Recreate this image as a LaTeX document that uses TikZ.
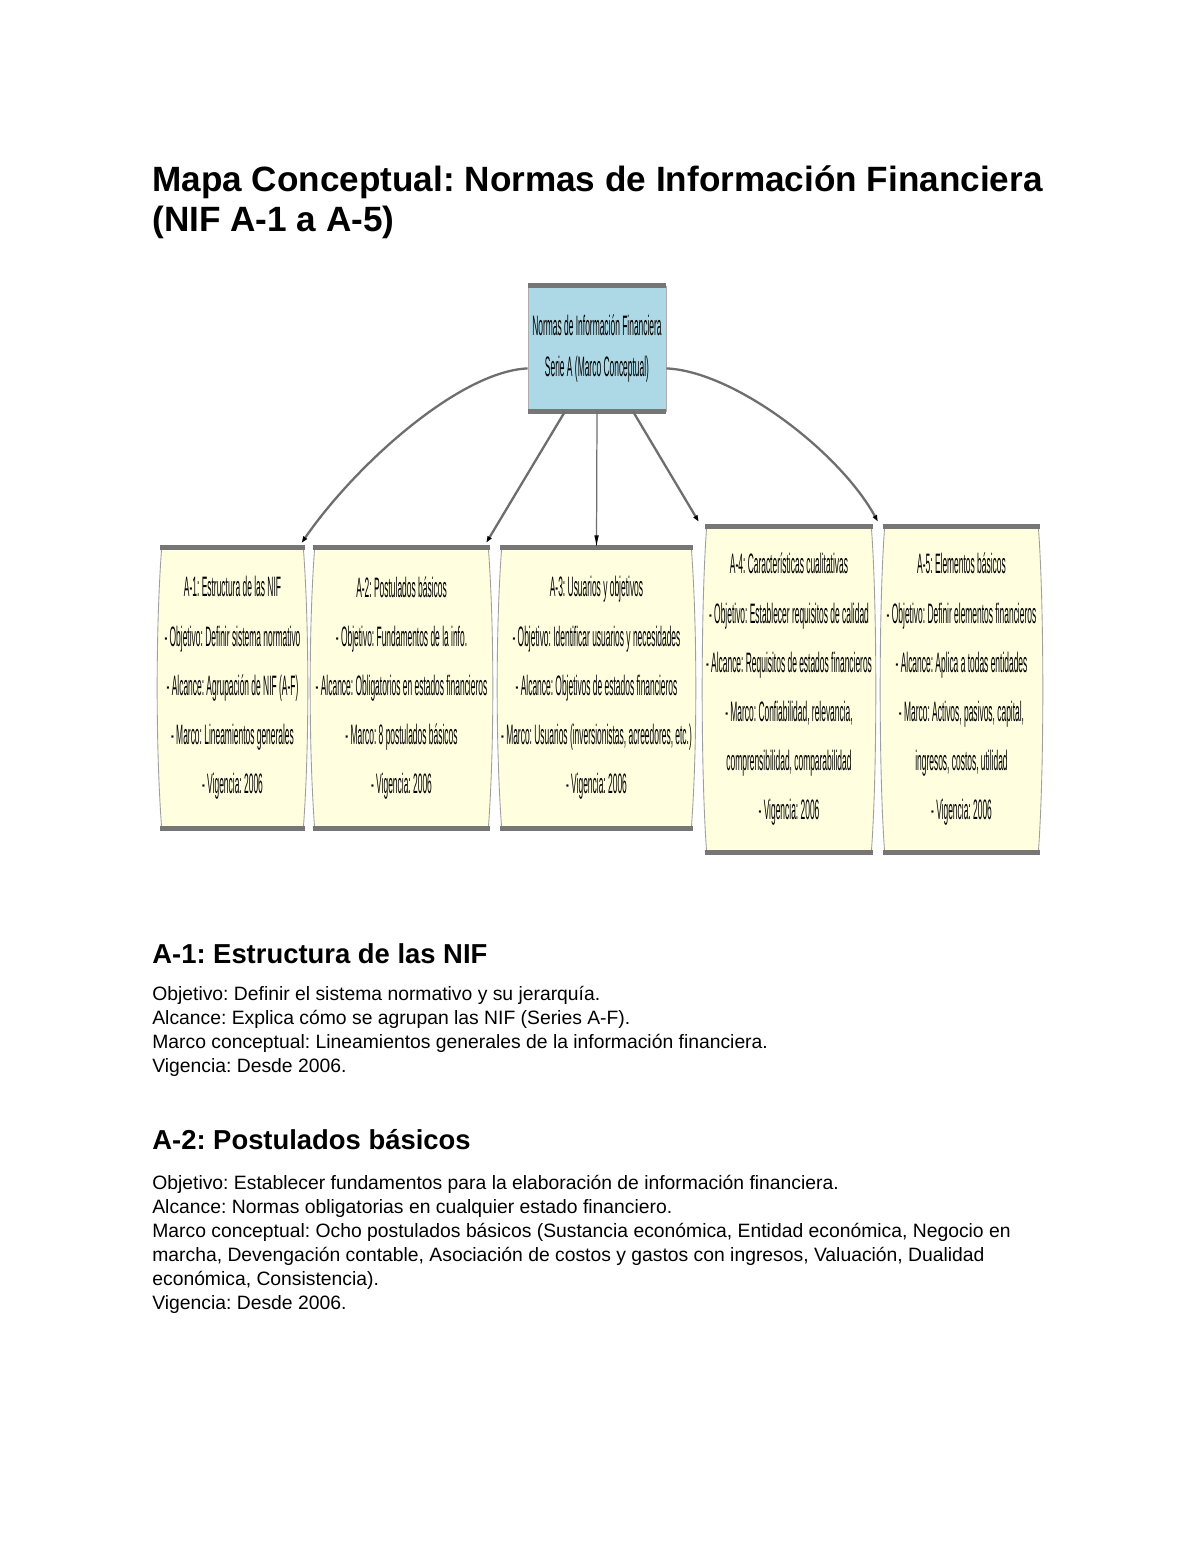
\documentclass[tikz,border=0pt]{standalone}
\usepackage{fontspec}
\setmainfont{Liberation Sans}
\newfontfamily\squeezefont[FakeStretch=0.3]{Liberation Sans}
\usetikzlibrary{arrows.meta,calc,backgrounds}
\frenchspacing

\definecolor{headblue}{HTML}{ADD8E6}
\definecolor{leafcream}{HTML}{FFFFE0}
\definecolor{bargray}{HTML}{767676}
\definecolor{linkgray}{HTML}{6E6E6E}

% barrel shaped card behind a leaf node
\newcommand\barrelbox[1]{%
  \filldraw[fill=leafcream, draw=bargray!70, line width=0.5pt]
    ($(#1.north west)+(2,0)$) -- ($(#1.north east)+(-2,0)$)
    .. controls +(6,80) and +(6,-80) .. ($(#1.south east)+(-2,0)$)
    -- ($(#1.south west)+(2,0)$)
    .. controls +(-6,-80) and +(-6,80) .. cycle;
  \draw[bar] (#1.north west) -- (#1.north east);
  \draw[bar] (#1.south west) -- (#1.south east);
}

\begin{document}
\begin{tikzpicture}[x=0.02cm, y=-0.02cm,
  squeezed/.style={font=\squeezefont\fontsize{16}{28}\selectfont, align=center, inner sep=0pt},
  headbox/.style={squeezed, font=\squeezefont\fontsize{16}{23}\selectfont,
                  fill=headblue, draw=bargray!60, line width=0.5pt,
                  minimum width=2.76cm, minimum height=2.5cm},
  leaf/.style={squeezed, minimum height=5.6cm},
  tallleaf/.style={squeezed, minimum height=6.5cm},
  bar/.style={draw=bargray, line width=2.6pt},
  link/.style={draw=linkgray, line width=1.3pt, -{Latex[black, length=7pt, width=2.6pt]}},
  heading/.style={anchor=base west, inner sep=0pt, font=\bfseries\fontsize{15.6}{19}\selectfont},
  bodytext/.style={anchor=base west, align=left, inner sep=0pt, font=\fontsize{11}{13.6}\selectfont}
]
  \useasboundingbox (0,0) rectangle (1200,1553);

  % title
  \node[anchor=base west, inner sep=0pt, font=\bfseries\fontsize{20}{24}\selectfont] (title1) at (152,191)
    {Mapa Conceptual: Normas de Información Financiera};
  \node[anchor=base west, inner sep=0pt, font=\bfseries\fontsize{20}{24}\selectfont] (title2) at (152,231)
    {(NIF A-1 a A-5)};

  % concept map
  \node[headbox] (nif) at (597,348.5) {Normas de Información Financiera\\Serie A (Marco Conceptual)};
  \draw[bar] (nif.north west) -- (nif.north east);
  \draw[bar] (nif.south west) -- (nif.south east);

  \node[leaf, minimum width=2.9cm] (a1) at (232.5,688)
    {A-1: Estructura de las NIF\\- Objetivo: Definir sistema normativo\\- Alcance: Agrupación de NIF (A-F)\\- Marco: Lineamientos generales\\- Vigencia: 2006};
  \node[leaf, minimum width=3.54cm] (a2) at (401.5,688)
    {A-2: Postulados básicos\\- Objetivo: Fundamentos de la info.\\- Alcance: Obligatorios en estados financieros\\- Marco: 8 postulados básicos\\- Vigencia: 2006};
  \node[leaf, minimum width=3.86cm] (a3) at (596.5,688)
    {A-3: Usuarios y objetivos\\- Objetivo: Identificar usuarios y necesidades\\- Alcance: Objetivos de estados financieros\\- Marco: Usuarios (inversionistas, acreedores, etc.)\\- Vigencia: 2006};
  \node[tallleaf, minimum width=3.36cm] (a4) at (789,689.5)
    {A-4: Características cualitativas\\- Objetivo: Establecer requisitos de calidad\\- Alcance: Requisitos de estados financieros\\- Marco: Confiabilidad, relevancia,\\comprensibilidad, comparabilidad\\- Vigencia: 2006};
  \node[tallleaf, minimum width=3.14cm] (a5) at (961.5,689.5)
    {A-5: Elementos básicos\\- Objetivo: Definir elementos financieros\\- Alcance: Aplica a todas entidades\\- Marco: Activos, pasivos, capital,\\ingresos, costos, utilidad\\- Vigencia: 2006};

  \begin{scope}[on background layer]
    \fill[white] (0,0) rectangle (1200,1553);
    \foreach \n in {a1,a2,a3,a4,a5} {\barrelbox{\n}}
  \end{scope}

  \draw[link] (nif.196) .. controls +(-68,3) and +(57,-83) .. ($(a1.north east)+(-7,0)$);
  \draw[link] ($(nif.south)+(-32,0)$) -- ($(a2.north east)+(-7,0)$);
  \draw[link, line width=0.7pt] (nif.south) -- (a3.north);
  \draw[link] ($(nif.south)+(36,0)$) -- ($(a4.north west)+(-3,0)$);
  \draw[link] (nif.-16) .. controls +(68,3) and +(-41,-75) .. ($(a5.north west)+(-2,0)$);

  % notes below the map
  \node[heading] (a1head) at (152,963) {A-1: Estructura de las NIF};
  \node[bodytext] (a1body) at (152,1072)
    {Objetivo: Definir el sistema normativo y su jerarquía.\\
     Alcance: Explica cómo se agrupan las NIF (Series A-F).\\
     Marco conceptual: Lineamientos generales de la información financiera.\\
     Vigencia: Desde 2006.};

  \node[heading] (a2head) at (152,1149) {A-2: Postulados básicos};
  \node[bodytext] (a2body) at (152,1309)
    {Objetivo: Establecer fundamentos para la elaboración de información financiera.\\
     Alcance: Normas obligatorias en cualquier estado financiero.\\
     Marco conceptual: Ocho postulados básicos (Sustancia económica, Entidad económica, Negocio en\\
     marcha, Devengación contable, Asociación de costos y gastos con ingresos, Valuación, Dualidad\\
     económica, Consistencia).\\
     Vigencia: Desde 2006.};
\end{tikzpicture}
\end{document}
